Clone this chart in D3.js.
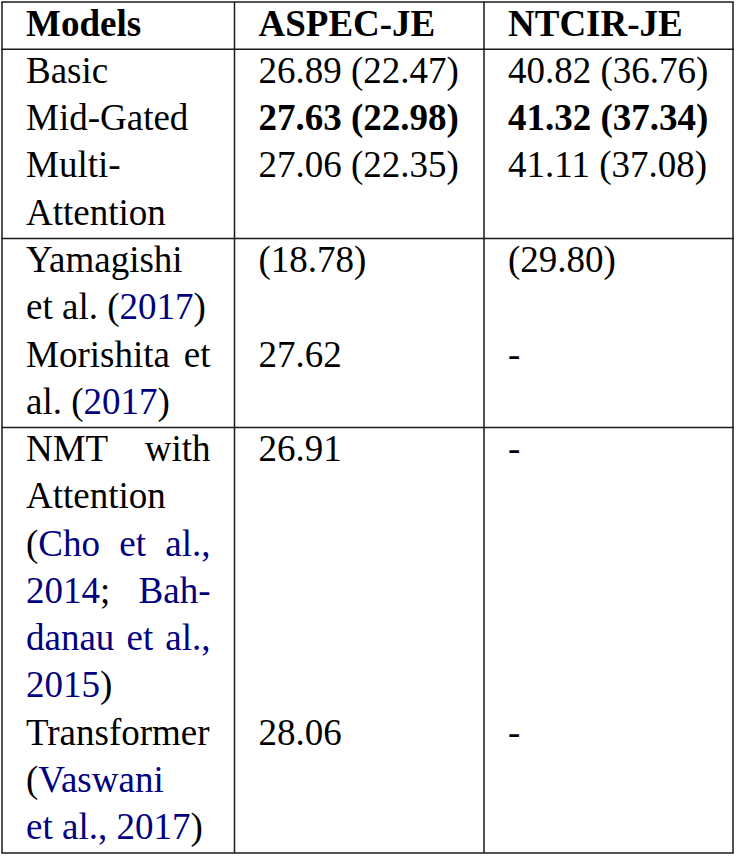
<!DOCTYPE html>
<html>
<head>
<meta charset="utf-8">
<script src="https://cdn.jsdelivr.net/npm/d3@7"></script>
<style>
  body { margin: 0; background: #fff; }
  svg text { font-family: "Liberation Serif", "Times New Roman", Times, serif; }
</style>
</head>
<body>
<div id="maViz"></div>
<script>
// ---------------------------------------------------------------
// DATA : one entry per model, model name already broken into lines
// {...} marks citation text (drawn in blue)
const headers = ["Models", "ASPEC-JE", "NTCIR-JE"];
const modelLines = [
  ["Basic"],
  ["Mid-Gated"],
  ["Multi-", "Attention"],
  ["Yamagishi", "et al. ({2017})"],
  ["Morishita et", "al. ({2017})"],
  ["NMT with", "Attention", "({Cho et al.,}", "{2014}; {Bah-}", "{danau et al.,}", "{2015})"],
  ["Transformer", "({Vaswani}", "{et al., 2017})"]
];
const aspecScores = ["26.89 (22.47)", "27.63 (22.98)", "27.06 (22.35)", "(18.78)", "27.62", "26.91", "28.06"];
const ntcirScores = ["40.82 (36.76)", "41.32 (37.34)", "41.11 (37.08)", "(29.80)", "-", "-", "-"];
const bestModel = "Mid-Gated";
const groupSizes = [3, 2, 2]; // models per block, a rule between blocks
const justifiedLines = ["Morishita et", "NMT with", "({Cho et al.,}", "{2014}; {Bah-}", "{danau et al.,}"];

// ---------------------------------------------------------------
// layout
const width = 738, height = 857;
const fontSize = 37;
const serif = "Liberation Serif";
const citeColor = "#000080";
const ruleColor = "#1a1a1a";
const colEdges = [2, 234.5, 484, 733];
const pad = 24;

const svg = d3.select("#maViz")
  .append("svg")
    .attr("width", width)
    .attr("height", height);

// first line index of every model (line 0 = header)
let cursor = 1;
const rows = modelLines.map((lines, i) => {
  const r = {i: i, lines: lines, start: cursor, aspec: aspecScores[i], ntcir: ntcirScores[i]};
  cursor += lines.length;
  return r;
});
const lineCount = cursor;

// vertical scale : line index -> y
const y = d3.scaleLinear().domain([0, lineCount]).range([2, 853]);
const baseline = i => y(i) + 0.7 * (y(1) - y(0)) + 0.5;

// ---------------------------------------------------------------
// parse a line into words, each word into coloured runs
function parseLine(str) {
  const chars = [];
  let blue = false;
  for (const ch of str) {
    if (ch === "{") { blue = true; continue; }
    if (ch === "}") { blue = false; continue; }
    chars.push({ch: ch, blue: blue});
  }
  const words = [];
  let cur = [];
  chars.forEach(c => {
    if (c.ch === " ") { if (cur.length) words.push(cur); cur = []; }
    else cur.push(c);
  });
  if (cur.length) words.push(cur);
  return words.map(w => {
    const runs = [];
    w.forEach(c => {
      const last = runs[runs.length - 1];
      if (last && last.blue === c.blue) last.text += c.ch;
      else runs.push({text: c.ch, blue: c.blue});
    });
    return runs;
  });
}

// one <text> per coloured run, words placed one after the other
function drawLine(g, str, x0, x1, yb, justify, bold) {
  const words = parseLine(str).map(runs => runs.map(run => {
    const t = g.append("text")
      .attr("y", yb)
      .attr("font-family", serif)
      .style("font-family", serif)
      .attr("font-size", fontSize)
      .attr("font-weight", bold ? "bold" : "normal")
      .attr("fill", run.blue ? citeColor : "#000")
      .text(run.text);
    return {t: t, w: t.node().getComputedTextLength()};
  }));
  const widths = words.map(runs => d3.sum(runs, r => r.w));
  let gap = fontSize * 0.25;
  if (justify && words.length > 1) {
    gap = (x1 - x0 - d3.sum(widths)) / (words.length - 1);
  }
  let xx = x0;
  words.forEach((runs, k) => {
    let xr = xx;
    runs.forEach(r => { r.t.attr("x", xr); xr += r.w; });
    xx += widths[k] + gap;
  });
}

const cells = svg.append("g");

// header
headers.forEach((h, c) => {
  drawLine(cells, h, colEdges[c] + pad, colEdges[c + 1] - pad, baseline(0), false, true);
});

// body
rows.forEach(r => {
  r.lines.forEach((ln, k) => {
    drawLine(cells, ln, colEdges[0] + pad, colEdges[1] - pad, baseline(r.start + k),
      justifiedLines.includes(ln), false);
  });
  const bold = r.lines.join("") === bestModel;
  drawLine(cells, r.aspec, colEdges[1] + pad, colEdges[2] - pad, baseline(r.start), false, bold);
  drawLine(cells, r.ntcir, colEdges[2] + pad, colEdges[3] - pad, baseline(r.start), false, bold);
});

// ---------------------------------------------------------------
// rules
const ruleLines = [0, 1];
let m = 0;
groupSizes.forEach(n => { m += n; ruleLines.push(rows[m - 1].start + rows[m - 1].lines.length); });

const rules = svg.append("g")
  .attr("stroke", ruleColor)
  .attr("stroke-width", 1.5);

rules.selectAll("line.h")
  .data(ruleLines)
  .join("line")
    .attr("class", "h")
    .attr("x1", colEdges[0] - 0.75)
    .attr("x2", colEdges[3] + 0.75)
    .attr("y1", d => y(d))
    .attr("y2", d => y(d));

rules.selectAll("line.v")
  .data(colEdges)
  .join("line")
    .attr("class", "v")
    .attr("x1", d => d)
    .attr("x2", d => d)
    .attr("y1", y(0))
    .attr("y2", y(lineCount));
</script>
</body>
</html>
